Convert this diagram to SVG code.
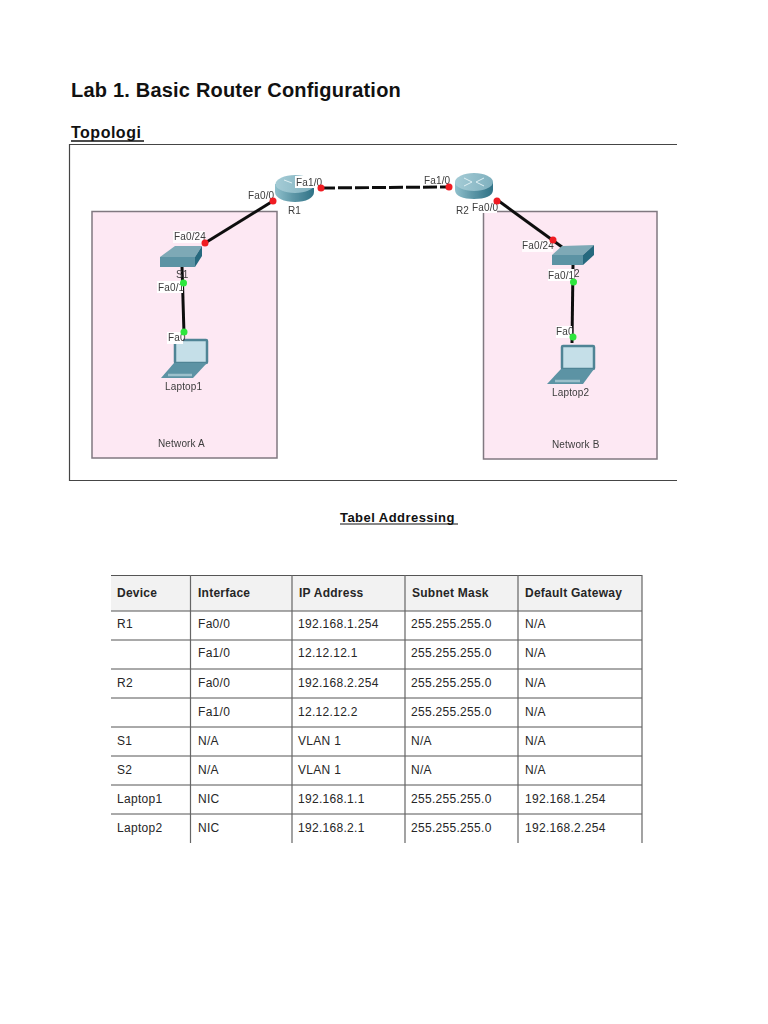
<svg xmlns="http://www.w3.org/2000/svg" width="768" height="1024" viewBox="0 0 768 1024">
<style>
text{font-family:"Liberation Sans",Arial,sans-serif;fill:#262626}
.t{font-size:12px;letter-spacing:.3px}
.h{font-size:12px;font-weight:bold;letter-spacing:.25px}
.n{font-size:10px;fill:#3c3c3c;letter-spacing:.15px}
.lb{fill:#fff}
.net{fill:#fde8f3;stroke:#807880;stroke-width:1.5}
.link{stroke:#111;stroke-width:3;fill:none}
.r{fill:#f01c24}
.g{fill:#2fe63c}
.grid{stroke:#555;stroke-width:1;fill:none}
.gridv{stroke:#666;stroke-width:1.2;fill:none}
</style>
<defs>
<filter id="soft" x="-5%" y="-5%" width="110%" height="110%"><feGaussianBlur stdDeviation="0.5"/></filter>
<linearGradient id="rb" x1="0" x2="1" y1="0" y2="0"><stop offset="0" stop-color="#8fc0cc"/><stop offset="0.45" stop-color="#5f98a8"/><stop offset="1" stop-color="#2f7286"/></linearGradient>
<linearGradient id="rt" x1="0" x2="1" y1="0" y2="0"><stop offset="0" stop-color="#a5ccd6"/><stop offset="1" stop-color="#7fb0be"/></linearGradient>
</defs>
<rect width="768" height="1024" fill="#fff"/>
<text x="71" y="97" font-size="20" font-weight="bold" letter-spacing=".2" style="fill:#111">Lab 1. Basic Router Configuration</text>
<text x="71" y="138" font-size="16" font-weight="bold" letter-spacing=".5" style="fill:#111">Topologi </text>
<line x1="71" y1="141" x2="144" y2="141" stroke="#111" stroke-width="1.3"/>
<g id="topology" filter="url(#soft)">
<path d="M677 144.500H69.500V480.500H677" fill="none" stroke="#444" stroke-width="1.200"/>
<g id="networkA"><rect class="net" x="92" y="211.500" width="185" height="246.500"/><text class="n" x="158" y="447">Network A</text></g>
<g id="networkB"><rect class="net" x="483.500" y="211.500" width="173.500" height="247.500"/><text class="n" x="552" y="448">Network B</text></g>
<g id="connectors">
<line class="link" x1="273" y1="201" x2="205" y2="243"/>
<line class="link" x1="321" y1="188" x2="449" y2="187" stroke-dasharray="14 3"/>
<line class="link" x1="496" y1="199" x2="562" y2="247"/>
<line class="link" x1="182" y1="266" x2="184" y2="334"/>
<line class="link" x1="573" y1="265" x2="572" y2="343"/>
</g>
<g id="R1">
<path d="M275 184V192C275 198 284 202 295 202S314 198 314 192V184Z" fill="url(#rb)"/>
<ellipse cx="295" cy="184" rx="19.500" ry="9" fill="url(#rt)"/>
<path d="M284 180L292 183" stroke="#dff0f4" stroke-width="1"/>
<rect class="lb" x="295" y="176" width="26" height="12"/><text class="n" x="296" y="186">Fa1/0</text>
<rect class="lb" x="248" y="190" width="24" height="11" opacity=".8"/><text class="n" x="248" y="199">Fa0/0</text>
<text class="n" x="288" y="214">R1</text>
</g>
<g id="R2">
<path d="M455 182V190C455 196 463 199 474 199S493 196 493 190V182Z" fill="url(#rb)"/>
<ellipse cx="474" cy="182" rx="19" ry="9" fill="url(#rt)"/>
<path d="M464 178L472 182M476 182L484 178M464 186L472 182M476 182L484 186" stroke="#dff0f4" stroke-width="1"/>
<text class="n" x="424" y="184">Fa1/0</text>
<rect class="lb" x="471" y="201" width="26" height="12"/><text class="n" x="472" y="211">Fa0/0</text>
<text class="n" x="456" y="214">R2</text>
</g>
<g id="S1">
<path d="M160 257L175 246H202L195 257Z" fill="#7ea9b6"/>
<rect x="160" y="257" width="35" height="10" fill="#5c93a4"/>
<path d="M195 257L202 246V256L195 267Z" fill="#26697e"/>
<rect class="lb" x="173" y="231" width="32" height="12" opacity=".8"/><text class="n" x="174" y="240">Fa0/24</text>
<text class="n" x="176" y="278">S1</text>
</g>
<g id="S2">
<path d="M552 255L562 246L594 245L583 255Z" fill="#7ea9b6"/>
<rect x="552" y="255" width="31" height="10" fill="#5c93a4"/>
<path d="M583 255L594 245V255L583 265Z" fill="#26697e"/>
<rect class="lb" x="522" y="240" width="31" height="12" opacity=".8"/><text class="n" x="522" y="249">Fa0/24</text>
<rect class="lb" x="548" y="269" width="26" height="12"/><text class="n" x="548" y="279">Fa0/1</text>
<text class="n" x="574" y="277">2</text>
</g>
<g id="Laptop1">
<rect x="175" y="340" width="32" height="23" rx="1" fill="#c5dfe8" stroke="#4f8495" stroke-width="2.500"/>
<path d="M174 363H207L193 378H161Z" fill="#5c93a4"/>
<path d="M168 375H192" stroke="#9cc0cb" stroke-width="2.500"/>
<text class="n" x="165" y="390">Laptop1</text>
<rect class="lb" x="157" y="281" width="26" height="12"/><text class="n" x="158" y="291">Fa0/1</text>
<rect class="lb" x="167" y="332" width="16" height="12"/><text class="n" x="168" y="341">Fa0</text>
</g>
<g id="Laptop2">
<rect x="562" y="346" width="32" height="23" rx="1" fill="#c5dfe8" stroke="#4f8495" stroke-width="2.500"/>
<path d="M561 369H594L583 384H547Z" fill="#5c93a4"/>
<path d="M555 381H580" stroke="#9cc0cb" stroke-width="2.500"/>
<text class="n" x="552" y="396">Laptop2</text>
<rect class="lb" x="556" y="326" width="16" height="12"/><text class="n" x="556" y="335">Fa0</text>
</g>
<g id="ports">
<circle class="r" cx="273" cy="201" r="3.500"/><circle class="r" cx="321" cy="188" r="3.500"/>
<circle class="r" cx="205" cy="243" r="3.500"/><circle class="r" cx="449" cy="187" r="3.500"/>
<circle class="r" cx="497" cy="201" r="3.500"/><circle class="r" cx="553" cy="240" r="3.500"/>
<circle class="g" cx="183.500" cy="283" r="3.500"/><circle class="g" cx="184" cy="332" r="3.500"/>
<circle class="g" cx="573.500" cy="282" r="3.500"/><circle class="g" cx="573" cy="337" r="3.500"/>
</g>
</g>
<text x="340" y="522" font-size="13" font-weight="bold" letter-spacing=".45" style="fill:#111">Tabel Addressing </text>
<line x1="340" y1="524" x2="458" y2="524" stroke="#111" stroke-width="1"/>
<g id="table">
<rect x="111" y="575" width="531" height="36" fill="#f2f2f2"/>
<path class="grid" d="M111 575.500H642M111 611H642M111 640H642M111 669H642M111 698H642M111 727H642M111 756H642M111 785H642M111 814H642"/>
<path class="gridv" d="M190.500 575V843M292 575V843M405 575V843M518 575V843M642 575V843"/>
<text class="h" x="117" y="597">Device</text><text class="h" x="198" y="597">Interface</text><text class="h" x="299" y="597">IP Address</text><text class="h" x="412" y="597">Subnet Mask</text><text class="h" x="525" y="597">Default Gateway</text>
<text class="t" x="117" y="628">R1</text><text class="t" x="198" y="628">Fa0/0</text><text class="t" x="298" y="628">192.168.1.254</text><text class="t" x="411" y="628">255.255.255.0</text><text class="t" x="525" y="628">N/A</text>
<text class="t" x="198" y="657">Fa1/0</text><text class="t" x="298" y="657">12.12.12.1</text><text class="t" x="411" y="657">255.255.255.0</text><text class="t" x="525" y="657">N/A</text>
<text class="t" x="117" y="687">R2</text><text class="t" x="198" y="687">Fa0/0</text><text class="t" x="298" y="687">192.168.2.254</text><text class="t" x="411" y="687">255.255.255.0</text><text class="t" x="525" y="687">N/A</text>
<text class="t" x="198" y="716">Fa1/0</text><text class="t" x="298" y="716">12.12.12.2</text><text class="t" x="411" y="716">255.255.255.0</text><text class="t" x="525" y="716">N/A</text>
<text class="t" x="117" y="745">S1</text><text class="t" x="198" y="745">N/A</text><text class="t" x="298" y="745">VLAN 1</text><text class="t" x="411" y="745">N/A</text><text class="t" x="525" y="745">N/A</text>
<text class="t" x="117" y="774">S2</text><text class="t" x="198" y="774">N/A</text><text class="t" x="298" y="774">VLAN 1</text><text class="t" x="411" y="774">N/A</text><text class="t" x="525" y="774">N/A</text>
<text class="t" x="117" y="803">Laptop1</text><text class="t" x="198" y="803">NIC</text><text class="t" x="298" y="803">192.168.1.1</text><text class="t" x="411" y="803">255.255.255.0</text><text class="t" x="525" y="803">192.168.1.254</text>
<text class="t" x="117" y="832">Laptop2</text><text class="t" x="198" y="832">NIC</text><text class="t" x="298" y="832">192.168.2.1</text><text class="t" x="411" y="832">255.255.255.0</text><text class="t" x="525" y="832">192.168.2.254</text>
</g>
</svg>
